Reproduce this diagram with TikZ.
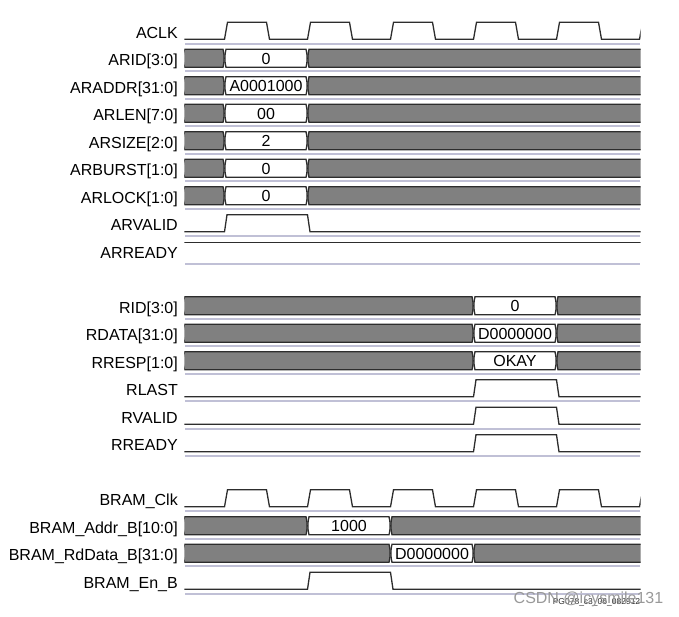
\documentclass[tikz,border=0pt]{standalone}
\usepackage{fontspec}
\setmainfont{Liberation Sans}
\definecolor{busgray}{RGB}{128,128,128}
\definecolor{sepline}{RGB}{192,192,214}
\definecolor{waveline}{RGB}{45,45,45}

% one bus segment with bracket ends: row y, x from, x to, fill
\newcommand{\busseg}[4]{%
  \draw[busline,fill=#4] (#2+1.5,#1-9) -- (#3-1.5,#1-9)
    .. controls (#3,#1-4) and (#3,#1+4) .. (#3-1.5,#1+9)
    -- (#2+1.5,#1+9) .. controls (#2,#1+4) and (#2,#1-4) .. (#2+1.5,#1-9) -- cycle;}
% bus row with one valid window
\newcommand{\busrow}[5]{%
  \busseg{#1}{183}{#2}{busgray}
  \busseg{#1}{#2}{#3}{white}
  \busseg{#1}{#3}{646}{busgray}
  \node[val] (#5) at ({(#2+#3)/2},#1+6) {#4};}
% single pulse
\newcommand{\pulse}[3]{%
  \draw[wave] (183,#1+8.5) -- (#2,#1+8.5) -- (#2+2.5,#1-8.5) -- (#3,#1-8.5)
    -- (#3+2.5,#1+8.5) -- (646,#1+8.5);}
% clock
\newcommand{\clockrow}[1]{%
  \draw[wave] (183,#1+8.5) \foreach \t in {224.5,307.5,390.5,473.5,556.5,639.5} {
    -- (\t,#1+8.5) -- (\t+3,#1-8.5) -- (\t+42,#1-8.5) -- (\t+45,#1+8.5)};}

\begin{document}
\begin{tikzpicture}[x=1pt,y=-1pt,
  wave/.style={draw=waveline,line width=1.3pt},
  busline/.style={draw=waveline,line width=1.3pt},
  sep/.style={draw=sepline,line width=2pt},
  lbl/.style={anchor=base east,inner sep=0pt,font=\fontsize{16}{19}\selectfont},
  val/.style={anchor=base,inner sep=0pt,font=\fontsize{16}{19}\selectfont}]
  \useasboundingbox (0,0) rectangle (679,617);

  % signal names
  \begin{scope}[every node/.style={lbl}]
  \node (aclk)    at (178,38.3)  {ACLK};
  \node (arid)    at (178,65.8)  {ARID[3:0]};
  \node (araddr)  at (178,93.3)  {ARADDR[31:0]};
  \node (arlen)   at (178,120.8) {ARLEN[7:0]};
  \node (arsize)  at (178,148.3) {ARSIZE[2:0]};
  \node (arburst) at (178,175.8) {ARBURST[1:0]};
  \node (arlock)  at (178,203.3) {ARLOCK[1:0]};
  \node (arvalid) at (178,230.8) {ARVALID};
  \node (arready) at (178,258.3) {ARREADY};
  \node (rid)     at (178,313.3) {RID[3:0]};
  \node (rdata)   at (178,340.8) {RDATA[31:0]};
  \node (rresp)   at (178,368.3) {RRESP[1:0]};
  \node (rlast)   at (178,395.8) {RLAST};
  \node (rvalid)  at (178,423.3) {RVALID};
  \node (rready)  at (178,450.8) {RREADY};
  \node (bclk)    at (178,505.8) {BRAM\_Clk};
  \node (baddr)   at (178,533.3) {BRAM\_Addr\_B[10:0]};
  \node (bdata)   at (178,560.8) {BRAM\_RdData\_B[31:0]};
  \node (ben)     at (178,588.3) {BRAM\_En\_B};
  \end{scope}

  % row separators
  \foreach \k in {0,...,8,10,11,...,15,17,18,...,20} {
    \pgfmathsetmacro\c{30.8+27.5*\k}
    \draw[sep] (185,\c+13) -- (640,\c+13);
  }

  % waveforms
  \begin{scope}
  \clip (184.3,0) rectangle (640.6,617);
  \clockrow{30.8}
  \busrow{58.3}{224.5}{307.5}{0}{vid}
  \busrow{85.8}{224.5}{307.5}{A0001000}{vaddr}
  \busrow{113.3}{224.5}{307.5}{00}{vlen}
  \busrow{140.8}{224.5}{307.5}{2}{vsize}
  \busrow{168.3}{224.5}{307.5}{0}{vburst}
  \busrow{195.8}{224.5}{307.5}{0}{vlock}
  \pulse{223.3}{224.5}{307.5}
  \draw[wave] (183,242.3) -- (646,242.3);
  \busrow{305.8}{473.5}{556.5}{0}{vrid}
  \busrow{333.3}{473.5}{556.5}{D0000000}{vrdata}
  \busrow{360.8}{473.5}{556.5}{OKAY}{vresp}
  \pulse{388.3}{473.5}{556.5}
  \pulse{415.8}{473.5}{556.5}
  \pulse{443.3}{473.5}{556.5}
  \clockrow{498.3}
  \busrow{525.8}{307.5}{390.5}{1000}{vbaddr}
  \busrow{553.3}{390.5}{473.5}{D0000000}{vbdata}
  \pulse{580.8}{307.5}{390.5}
  \end{scope}

  % figure id and watermark
  \node[anchor=base,inner sep=0pt,text=waveline,font=\fontsize{8.5}{10}\selectfont] (figid) at (596.5,604) {PG078\_c3\_06\_082912};
  \node[anchor=base,inner sep=0pt,text=black!40,font=\fontsize{16}{19}\selectfont] (mark) at (588.5,603) {CSDN @icysmile131};
\end{tikzpicture}
\end{document}
